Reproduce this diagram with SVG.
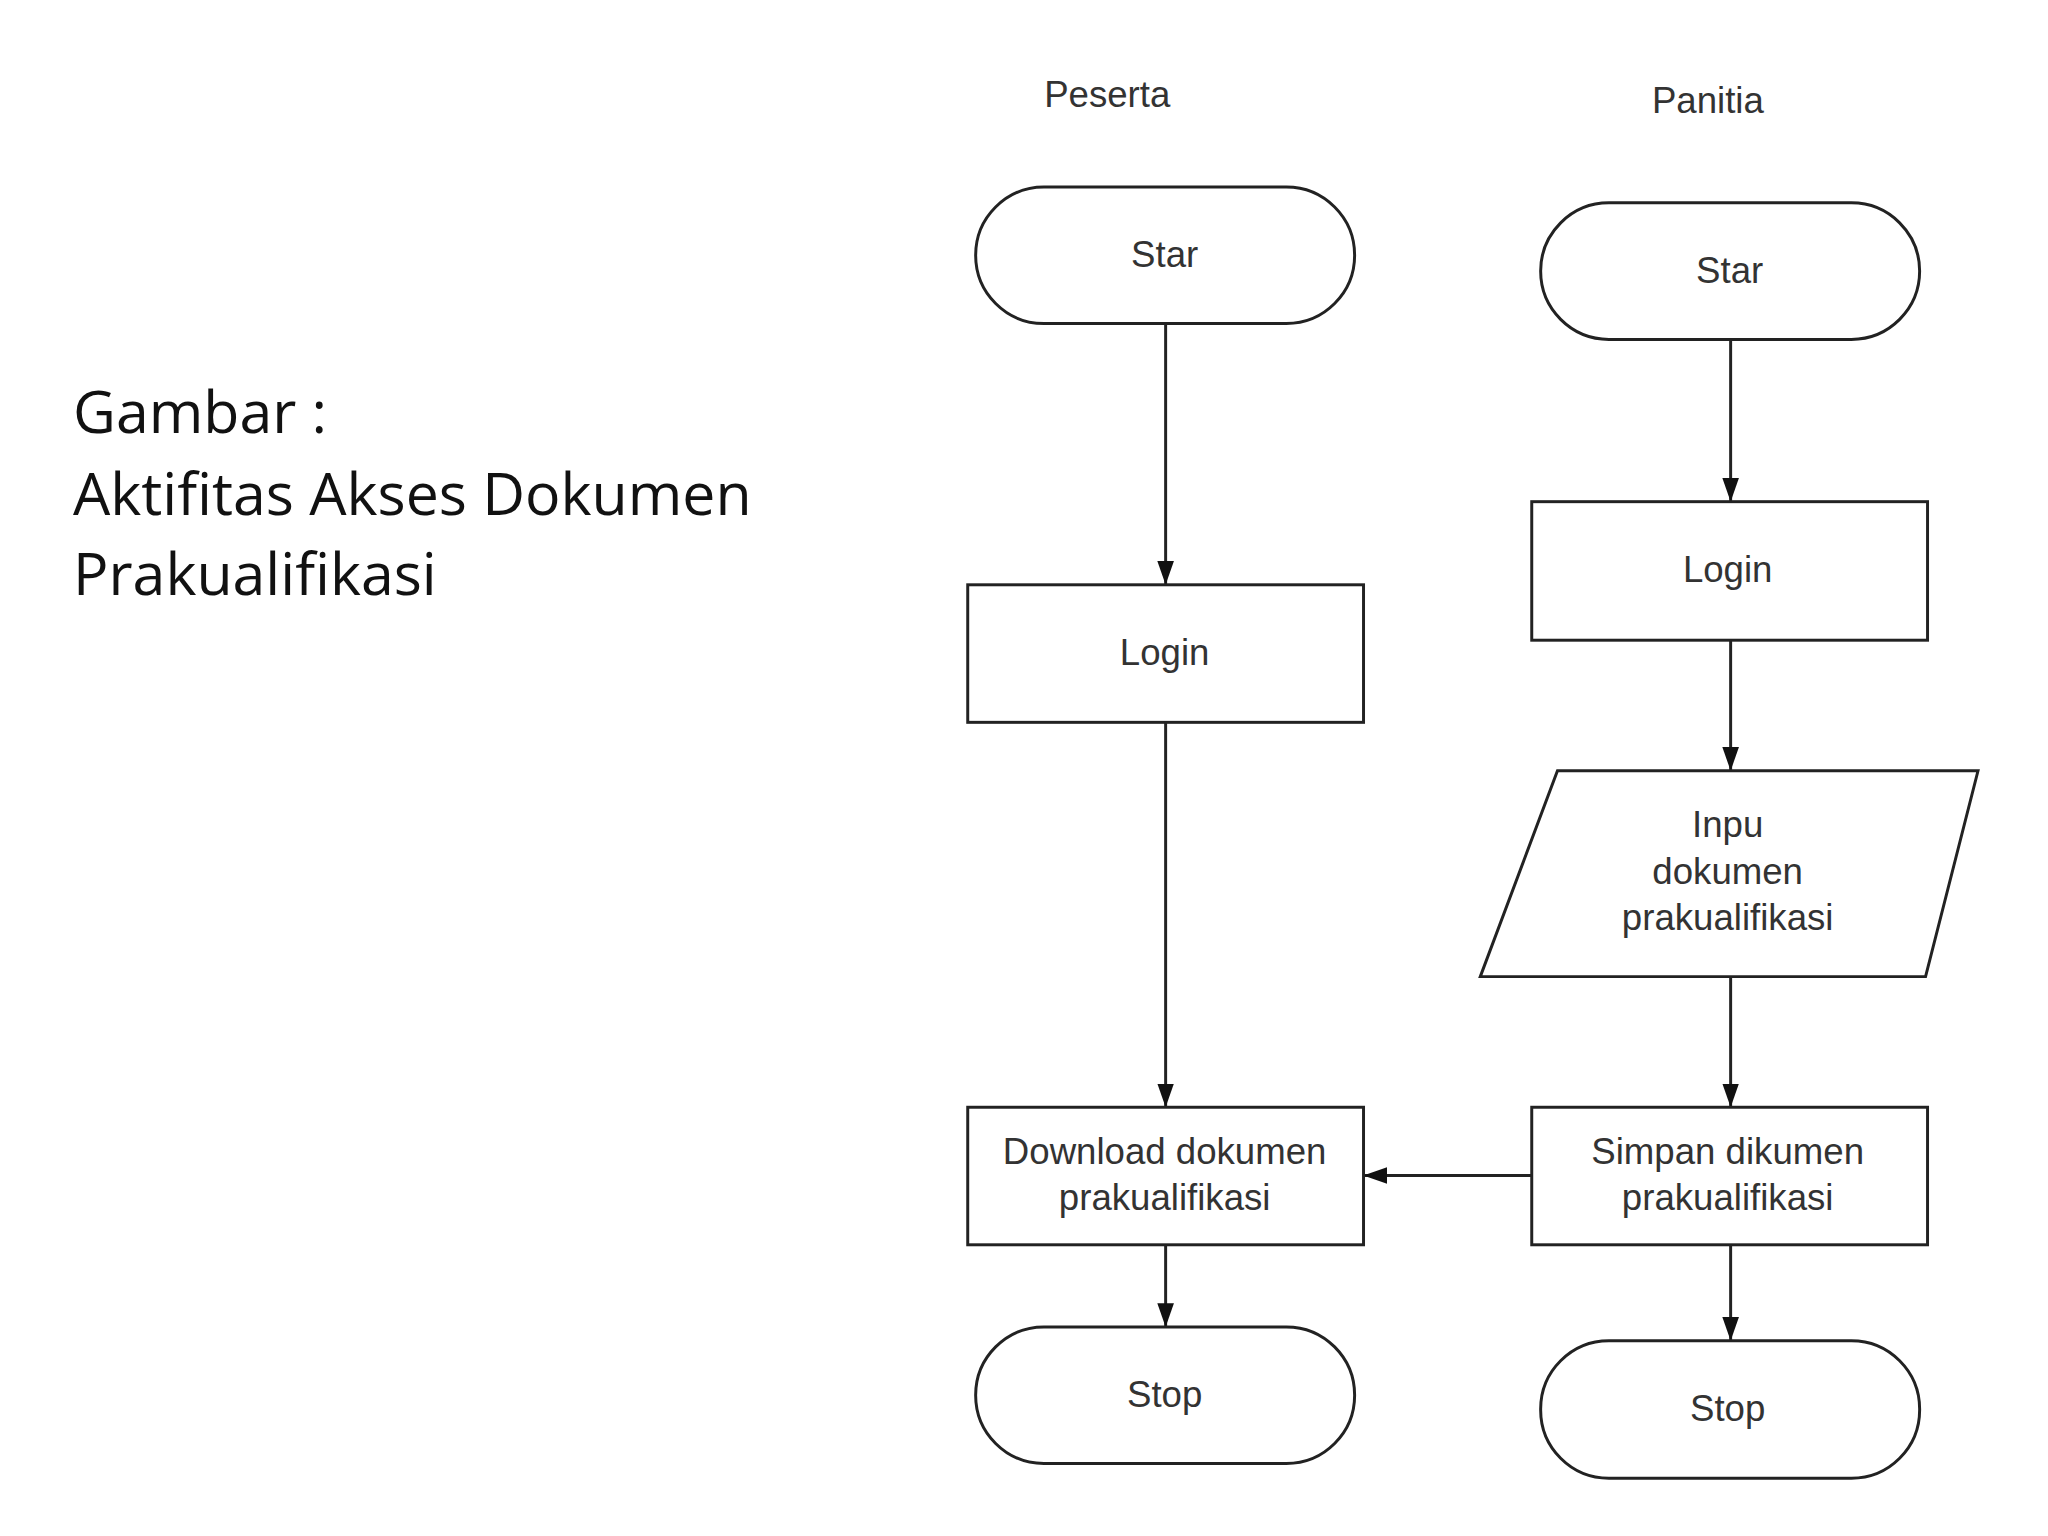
<svg xmlns="http://www.w3.org/2000/svg" width="2048" height="1536" viewBox="0 0 2048 1536">
<style>
.s{fill:#fff;stroke:#222;stroke-width:3}
.t{font-family:"Liberation Sans",Arial,sans-serif;font-size:37px;fill:#333;text-anchor:middle}
.h{font-family:"Open Sans","Noto Sans",sans-serif;font-size:59px;fill:#111}
</style>
<defs>
<marker id="b" viewBox="0 0 10 10" refX="10" refY="5" markerWidth="24" markerHeight="24" markerUnits="userSpaceOnUse" orient="auto"><path d="M0,1.5L10,5L0,8.5z" fill="#111"/></marker></defs>
<rect width="2048" height="1536" fill="#fff"/>
<text class="h" x="73" y="433">Gambar :</text>
<text class="h" x="73" y="515">Aktifitas Akses Dokumen</text>
<text class="h" x="73" y="595">Prakualifikasi</text>
<g transform="scale(0.9895)">
<text class="t" x="1119" y="108">Peserta</text>
<text class="t" x="1726" y="114">Panitia</text>
<g id="connectors" style="stroke:#222;stroke-width:3;fill:none">
<path d="M1178,327V591" marker-end="url(#b)"/>
<path d="M1178,730V1119" marker-end="url(#b)"/>
<path d="M1178,1258V1341" marker-end="url(#b)"/>
<path d="M1749,343V507" marker-end="url(#b)"/>
<path d="M1749,647V779" marker-end="url(#b)"/>
<path d="M1749,987V1119" marker-end="url(#b)"/>
<path d="M1749,1258V1355" marker-end="url(#b)"/>
<path d="M1548,1188H1378" marker-end="url(#b)"/>
</g>
<g id="star1"><rect class="s" x="986" y="189" width="383" height="138" rx="69"/><text class="t" x="1177" y="270">Star</text></g>
<g id="star2"><rect class="s" x="1557" y="205" width="383" height="138" rx="69"/><text class="t" x="1748" y="286">Star</text></g>
<g id="login1"><rect class="s" x="978" y="591" width="400" height="139"/><text class="t" x="1177" y="672">Login</text></g>
<g id="login2"><rect class="s" x="1548" y="507" width="400" height="140"/><text class="t" x="1746" y="588">Login</text></g>
<g id="input"><path class="s" d="M1574,779H1999L1946,987H1496Z"/><text class="t" x="1746" y="846">Inpu</text><text class="t" x="1746" y="893">dokumen</text><text class="t" x="1746" y="940">prakualifikasi</text></g>
<g id="download"><rect class="s" x="978" y="1119" width="400" height="139"/><text class="t" x="1177" y="1176">Download dokumen</text><text class="t" x="1177" y="1223">prakualifikasi</text></g>
<g id="simpan"><rect class="s" x="1548" y="1119" width="400" height="139"/><text class="t" x="1746" y="1176">Simpan dikumen</text><text class="t" x="1746" y="1223">prakualifikasi</text></g>
<g id="stop1"><rect class="s" x="986" y="1341" width="383" height="138" rx="69"/><text class="t" x="1177" y="1422">Stop</text></g>
<g id="stop2"><rect class="s" x="1557" y="1355" width="383" height="139" rx="69"/><text class="t" x="1746" y="1436">Stop</text></g>
</g>
</svg>
